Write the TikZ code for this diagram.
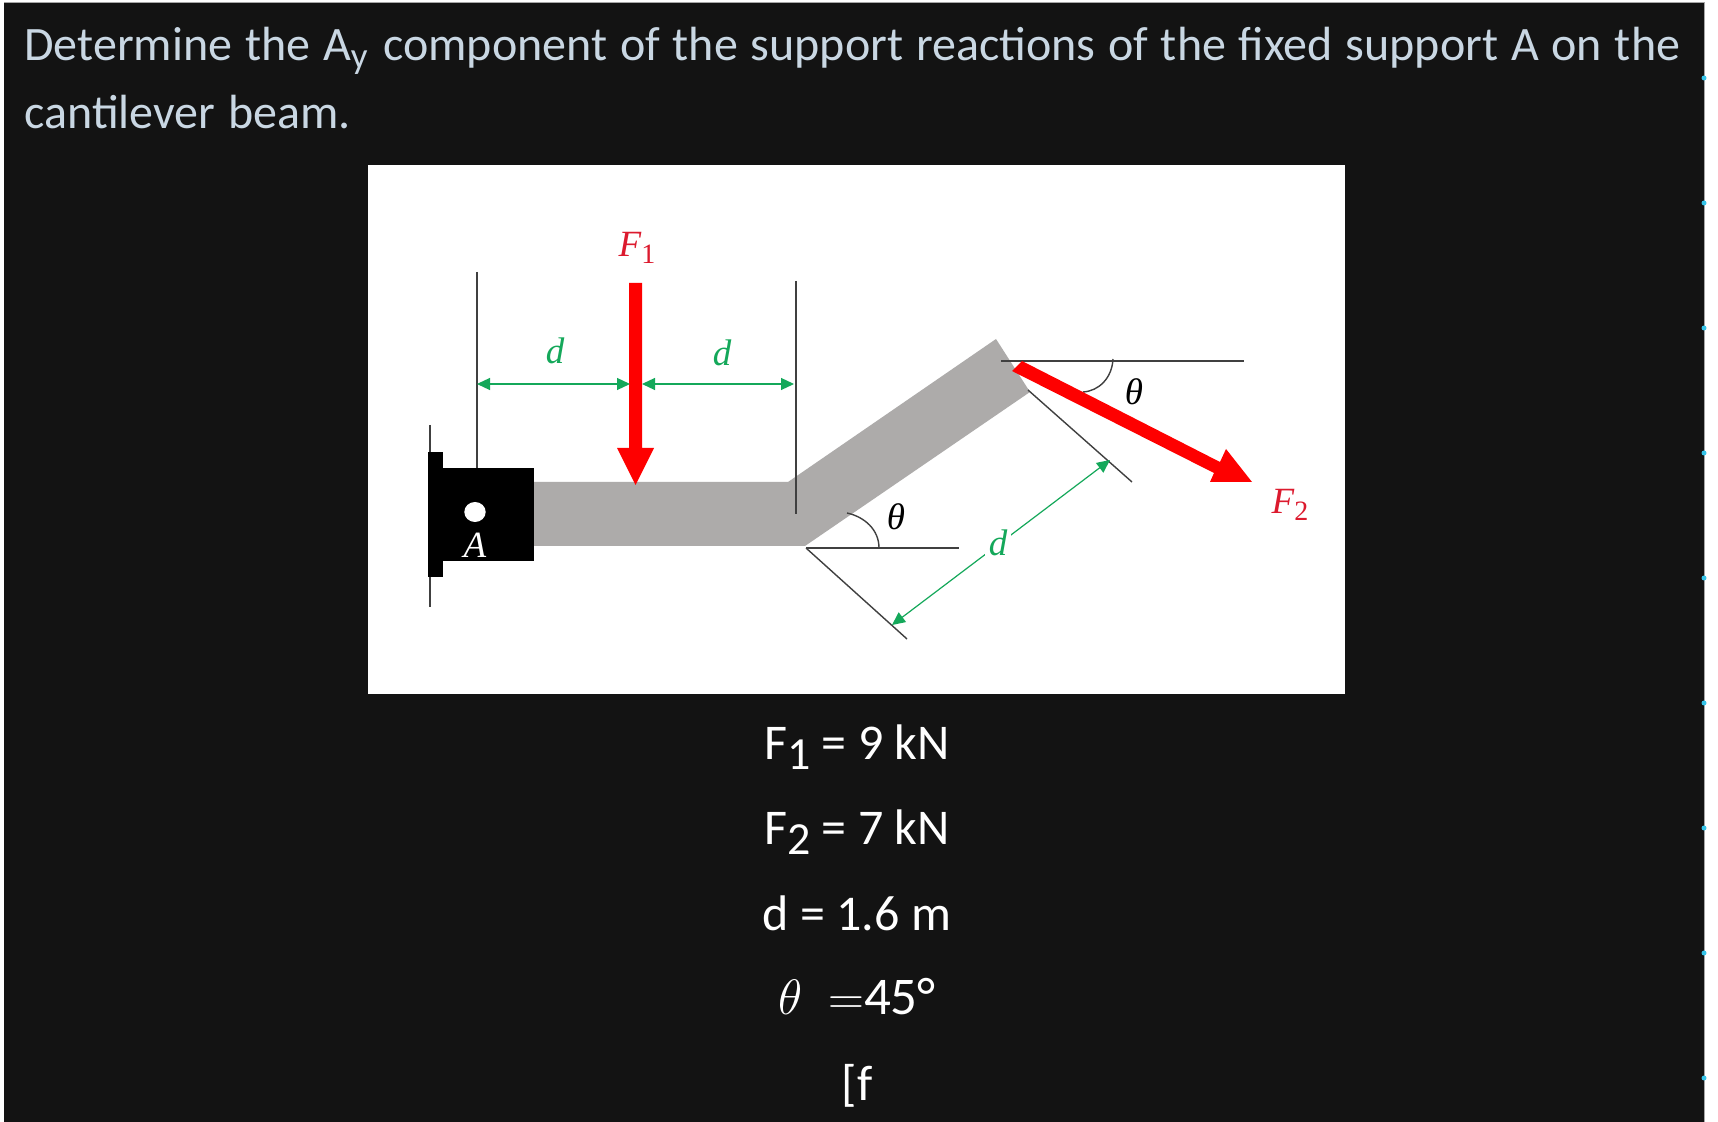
\documentclass[tikz,border=0pt]{standalone}
\usepackage{fontspec}
\setmainfont{Carlito}
\newfontfamily\titlefont[WordSpace=1.18,Ligatures=Common]{Carlito}
\newfontfamily\labelfont{Liberation Serif}
\usetikzlibrary{arrows.meta}

\definecolor{panelblack}{HTML}{131313}
\definecolor{titlegrey}{HTML}{C9D7E3}
\definecolor{beamgrey}{HTML}{ADABAA}
\definecolor{forcered}{HTML}{FE0000}
\definecolor{labelred}{HTML}{DC1A2E}
\definecolor{dimgreen}{HTML}{14A85A}
\definecolor{edgeblue}{HTML}{35C3E8}

\newcommand{\subtxt}[1]{\raisebox{-.2em}{\fontsize{23}{23}\selectfont #1}}
\newcommand{\subtitle}[1]{\raisebox{-.16em}{\fontsize{18.5}{18.5}\selectfont #1}\hspace{1.5pt}}
\newcommand{\sublabel}[1]{\raisebox{-.2em}{\fontsize{14}{14}\selectfont\upshape #1}}

\tikzset{
  helpline/.style={draw=black!75,line width=0.7pt},
  dimline/.style={draw=dimgreen,line width=0.6pt,{Triangle[length=6.5pt,width=6pt]}-{Triangle[length=6.5pt,width=6pt]}},
  labeltxt/.style={font=\labelfont\itshape\fontsize{18.5}{21}\selectfont,inner sep=0pt},
  bodytxt/.style={font=\fontsize{25}{28}\selectfont,text=white,inner sep=0pt,anchor=base},
  titletxt/.style={font=\titlefont\fontsize{24}{28}\selectfont,text=titlegrey,inner sep=0pt,anchor=base west},
}

\begin{document}
\begin{tikzpicture}[x=0.5pt,y=-0.5pt]
  \useasboundingbox (0,0) rectangle (1718,1122);
  \fill[panelblack] (4,3) rectangle (1704,1122);
  \draw[black!35,line width=0.5pt] (4,3) -- (1704,3) -- (1704,1122);
  \foreach \y in {78,203,...,1078}
    \fill[edgeblue] (1704,\y) circle (2.5);

  % question text
  \node[titletxt] (title1) at (24,61) {Determine the A\subtitle{y} component of the support reactions of the fixed support A on the};
  \node[titletxt] (title2) at (24,129) {cantilever beam.};

  % figure
  \fill[white] (368,165) rectangle (1345,694);

  \fill[beamgrey] (534,482) -- (788,482) -- (996,339) -- (1030,392) -- (805,546) -- (534,546) -- cycle;

  \draw[helpline] (477,272) -- (477,468);
  \draw[helpline] (796,281) -- (796,514);
  \draw[helpline] (430,425) -- (430,607);
  \draw[helpline] (806,548) -- (959,548);
  \draw[helpline] (806,548) -- (907,639);
  \draw[helpline] (1001,361) -- (1244,361);
  \draw[helpline] (1028,390) -- (1132,482);
  \draw[helpline] (847,513) .. controls (865,517) and (879,530) .. (879,548);
  \draw[helpline] (1113,359) .. controls (1112,378) and (1099,391) .. (1083,392);

  % support
  \fill[black] (428,452) rectangle (443,577);
  \fill[black] (443,468) rectangle (534,561);
  \fill[white] (475,512) ellipse (10.7 and 10);
  \node[labeltxt,text=white] (labelA) at (475,545) {A};

  % forces
  \fill[forcered] (629,283) -- (642,283) -- (642,448) -- (654,448) -- (635.5,485) -- (617,448) -- (629,448) -- cycle;
  \fill[forcered] (1022,361) -- (1220,462) -- (1226,449) -- (1252,482) -- (1210,482) -- (1214,473) -- (1012,371) -- cycle;

  % dimensions
  \draw[dimline] (477,384) -- (630,384);
  \draw[dimline] (642,384) -- (794,384);
  \coordinate (dimlow) at (892,625);
  \coordinate (dimhigh) at (1110,460);
  \draw[dimline] (dimlow) -- (dimhigh);

  \node[labeltxt,fill=white,text=dimgreen,inner sep=2pt] (labeld3) at (998,543) {d};
  \node[labeltxt,text=dimgreen] (labeld1) at (555,351) {d};
  \node[labeltxt,text=dimgreen] (labeld2) at (722,353) {d};
  \node[labeltxt,text=labelred] (labelF1) at (637,248) {F\sublabel{1}};
  \node[labeltxt,text=labelred] (labelF2) at (1290,505) {F\sublabel{2}};
  \node[labeltxt] (theta1) at (896,517) {θ};
  \node[labeltxt] (theta2) at (1134,392) {θ};

  % given values
  \node[bodytxt] (valF1) at (857,759) {F\subtxt{1} = 9 kN};
  \node[bodytxt] (valF2) at (857,844) {F\subtxt{2} = 7 kN};
  \node[bodytxt] (vald) at (857,930) {d = 1.6 m};
  \node[bodytxt,font=\fontsize{26.5}{28}\selectfont] (valtheta) at (857,1014) {{\fontsize{29}{29}\selectfont$\theta$\hspace{13pt}$=$}45°};
  \node[bodytxt] (valf) at (857,1100) {[f};
\end{tikzpicture}
\end{document}
